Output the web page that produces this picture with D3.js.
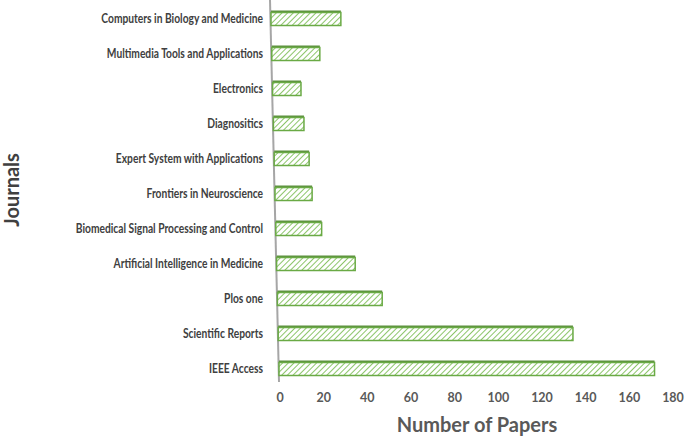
<!DOCTYPE html>
<html><head><meta charset="utf-8">
<script src="https://cdn.jsdelivr.net/npm/d3@7"></script>
<style>body{margin:0;background:#fff}text{font-family:Lato,"Open Sans",sans-serif}</style>
</head><body><div id="plot"></div>
<script>
var journals = ["Computers in Biology and Medicine","Multimedia Tools and Applications","Electronics","Diagnositics","Expert System with Applications","Frontiers in Neuroscience","Biomedical Signal Processing and Control","Artificial Intelligence in Medicine","Plos one","Scientific Reports","IEEE Access"];
var papers = [32, 22, 13, 14, 16, 17, 21, 36, 48, 135, 172];
var ticks = [0,20,40,60,80,100,120,140,160,180];

var w = 685, h = 438;
var svg = d3.select('#plot').append('svg').attr('width', w).attr('height', h);

var defs = svg.append('defs');
var pat = defs.append('pattern').attr('id','hatch').attr('patternUnits','userSpaceOnUse')
    .attr('width',4).attr('height',4).attr('patternTransform','rotate(45)');
pat.append('rect').attr('width',4).attr('height',4).attr('fill','#fff');
pat.append('line').attr('x1',0).attr('y1',0).attr('x2',0).attr('y2',4)
    .attr('stroke','#8cc56a').attr('stroke-width',2);

var y = d3.scalePoint().domain(journals).range([19, 369]);
var x = d3.scaleLinear().domain([0,180]).range([0, 393]);
// base of each bar slides right going down (3D perspective)
var base = d3.scaleLinear().domain([19, 369]).range([271, 279]);

svg.append('line').attr('x1',270).attr('y1',0).attr('x2',279).attr('y2',382)
    .attr('stroke','#a6a6a6').attr('stroke-width',2);

var bh = 13;
var g = svg.selectAll('.bar').data(journals).enter().append('g');
g.append('rect')
    .attr('x', function(d){ return base(y(d)); })
    .attr('y', function(d){ return y(d) - bh/2 - 2; })
    .attr('width', function(d,i){ return x(papers[i]); })
    .attr('height', 3).attr('fill','#5d8f3e');
g.append('rect')
    .attr('x', function(d){ return base(y(d)); })
    .attr('y', function(d){ return y(d) - bh/2; })
    .attr('width', function(d,i){ return x(papers[i]); })
    .attr('height', bh)
    .attr('fill','url(#hatch)').attr('stroke','#6aaa45').attr('stroke-width',1.5);

// labels squeezed horizontally to mimic the narrow original font
var labs = svg.append('g').attr('transform','translate(263,0) scale(0.82,1)');
labs.selectAll('.lab').data(journals).enter().append('text')
    .attr('x', 0).attr('y', function(d){ return y(d) + 4; })
    .attr('text-anchor','end').attr('font-size',12.5).attr('font-weight','bold')
    .attr('fill','#404040').text(function(d){ return d; });

svg.selectAll('.tick').data(ticks).enter().append('text')
    .attr('x', function(d){ return 280 + x(d); }).attr('y', 402)
    .attr('text-anchor','middle').attr('font-size',12.5).attr('font-weight','bold')
    .attr('fill','#595959').text(function(d){ return d; });

svg.append('text').attr('x', 477).attr('y', 432).attr('text-anchor','middle')
    .attr('font-size',20).attr('font-weight','bold').attr('fill','#595959').text('Number of Papers');
svg.append('text').attr('transform','translate(19,190) rotate(-90)').attr('text-anchor','middle')
    .attr('font-size',20).attr('font-weight','bold').attr('fill','#404040').text('Journals');
</script></body></html>
